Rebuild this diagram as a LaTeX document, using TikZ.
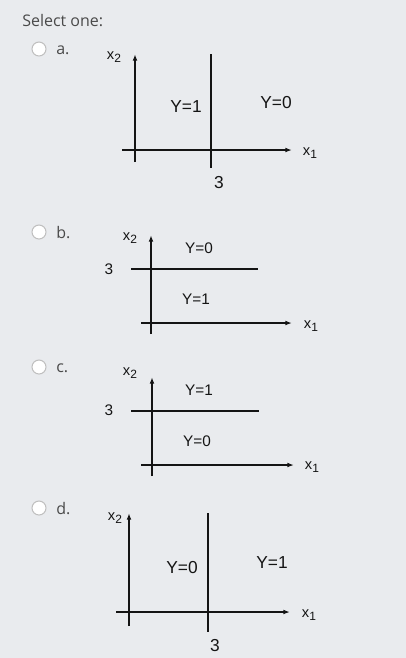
\documentclass[tikz,border=0pt]{standalone}
\usepackage{fontspec}
\setmainfont{Liberation Sans}
\newfontfamily\uifont{Open Sans}
\usetikzlibrary{positioning,arrows.meta}
\definecolor{bgpage}{HTML}{E9EBEE}
\definecolor{uigray}{HTML}{4A4A4A}
\definecolor{ink}{HTML}{141414}
\newcommand{\xvar}[1]{x\raisebox{-0.45ex}{\fontsize{9}{10}\selectfont #1}}

\begin{document}
\begin{tikzpicture}[
    x=0.75pt, y=-0.75pt,
    >={Latex[length=5pt,width=3.6pt]},
    line/.style={draw=ink, line width=1.4pt},
    axis/.style={line, ->},
    radio/.style={
        circle,
        draw=gray!50,
        fill=white,
        line width=0.8pt,
        minimum size=10.5pt,
        inner sep=0pt
    },
    opt/.style={font=\uifont\fontsize{12}{14}\selectfont, text=uigray, anchor=base west, inner sep=0pt},
    big/.style={font=\fontsize{13}{15}\selectfont, text=ink, inner sep=0pt},
    small/.style={font=\fontsize{11.5}{13}\selectfont, text=ink, inner sep=0pt},
    var/.style={font=\fontsize{11}{12}\selectfont, text=ink, inner sep=0pt}
]
    \path[fill=bgpage, use as bounding box] (0,0) rectangle (406,658);

    \node[opt] (title) at (22,26) {Select one:};

    % Opcao a
    \node[radio] (ra) at (39,49) {};
    \node[opt] (la) at (56,54) {a.};
    \coordinate (a-y0) at (135,162);
    \coordinate (a-y1) at (135,54);
    \coordinate (a-x0) at (122,150);
    \coordinate (a-x1) at (292,150);
    \coordinate (a-b0) at (211,54);
    \coordinate (a-b1) at (211,168);
    \draw[axis] (a-y0) -- (a-y1);
    \draw[axis] (a-x0) -- (a-x1);
    \draw[line] (a-b0) -- (a-b1);
    \node[var] (a-vx2) at (114,57) {\xvar{2}};
    \node[var] (a-vx1) at (310,153) {\xvar{1}};
    \node[big] (a-in) at (186,107) {Y=1};
    \node[big] (a-out) at (276,103) {Y=0};
    \node[big] (a-tick) at (219,183) {3};

    % Opcao b
    \node[radio] (rb) at (39,232) {};
    \node[opt] (lb) at (56,238) {b.};
    \coordinate (b-y0) at (151,334);
    \coordinate (b-y1) at (151,235);
    \coordinate (b-x0) at (141,323);
    \coordinate (b-x1) at (292,323);
    \coordinate (b-b0) at (131,269);
    \coordinate (b-b1) at (258,269);
    \draw[axis] (b-y0) -- (b-y1);
    \draw[axis] (b-x0) -- (b-x1);
    \draw[line] (b-b0) -- (b-b1);
    \node[var] (b-vx2) at (130,238) {\xvar{2}};
    \node[var] (b-vx1) at (311,326) {\xvar{1}};
    \node[small] (b-out) at (199,248) {Y=0};
    \node[small] (b-in) at (196,299) {Y=1};
    \node[small] (b-tick) at (109,269) {3};

    % Opcao c
    \node[radio] (rc) at (39,367) {};
    \node[opt] (lc) at (56,372) {c.};
    \coordinate (c-y0) at (152,476);
    \coordinate (c-y1) at (152,377);
    \coordinate (c-x0) at (141,465);
    \coordinate (c-x1) at (294,465);
    \coordinate (c-b0) at (131,411);
    \coordinate (c-b1) at (259,411);
    \draw[axis] (c-y0) -- (c-y1);
    \draw[axis] (c-x0) -- (c-x1);
    \draw[line] (c-b0) -- (c-b1);
    \node[var] (c-vx2) at (130,373) {\xvar{2}};
    \node[var] (c-vx1) at (312,467) {\xvar{1}};
    \node[small] (c-in) at (199,390) {Y=1};
    \node[small] (c-out) at (197,441) {Y=0};
    \node[small] (c-tick) at (109,410) {3};

    % Opcao d
    \node[radio] (rd) at (39,508) {};
    \node[opt] (ld) at (56,514) {d.};
    \coordinate (d-y0) at (129,626);
    \coordinate (d-y1) at (129,513);
    \coordinate (d-x0) at (116,612);
    \coordinate (d-x1) at (290,612);
    \coordinate (d-b0) at (208,513);
    \coordinate (d-b1) at (208,632);
    \draw[axis] (d-y0) -- (d-y1);
    \draw[axis] (d-x0) -- (d-x1);
    \draw[line] (d-b0) -- (d-b1);
    \node[var] (d-vx2) at (115,518) {\xvar{2}};
    \node[var] (d-vx1) at (309,615) {\xvar{1}};
    \node[big] (d-out) at (182,568) {Y=0};
    \node[big] (d-in) at (272,563) {Y=1};
    \node[big] (d-tick) at (215,646) {3};
\end{tikzpicture}
\end{document}
